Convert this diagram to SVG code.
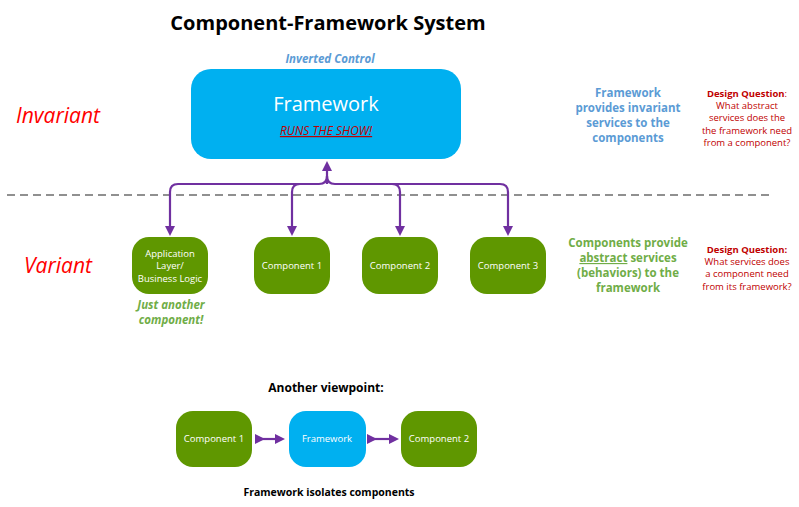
<svg xmlns="http://www.w3.org/2000/svg" width="799" height="507" viewBox="0 0 799 507">
<style>
text{font-family:"Open Sans","Liberation Sans",sans-serif}
.g{fill:#5f9700}
.b{fill:#00b0f0}
.wt{fill:#fff;font-size:9.5px;text-anchor:middle}
.c{stroke:#7030a0;stroke-width:2.2;fill:none}
.bl{fill:#5b9bd5;font-weight:bold;font-size:11.5px;text-anchor:middle}
.gr{fill:#70ad47;font-weight:bold;font-size:11.5px;text-anchor:middle}
.rd{fill:#c00000;font-size:9.5px;text-anchor:middle}
</style>
<defs>
<marker id="a" markerWidth="10" markerHeight="10" refX="5" refY="5" orient="auto" markerUnits="userSpaceOnUse"><path d="M0,0 L10,5 L0,10 Z" fill="#7030a0"/></marker>
</defs>
<rect width="799" height="507" fill="#fff"/>
<text x="328" y="30" text-anchor="middle" font-size="20" font-weight="bold">Component-Framework System</text>
<text x="58" y="123" text-anchor="middle" font-size="21" font-style="italic" fill="#ff0000">Invariant</text>
<text x="58" y="273" text-anchor="middle" font-size="21" font-style="italic" fill="#ff0000">Variant</text>
<line x1="7" y1="195" x2="772" y2="195" stroke="#222" stroke-width="1.2" stroke-dasharray="8,5"/>
<g id="connectors">
<path class="c" d="M327,176 Q327,184 319,184 L178,184 Q170,184 170,192 L170,231" marker-end="url(#a)"/>
<path class="c" d="M327,176 Q327,184 335,184 L500,184 Q508,184 508,192 L508,231" marker-end="url(#a)"/>
<path class="c" d="M300,184 Q292,184 292,192 L292,231" marker-end="url(#a)"/>
<path class="c" d="M392,184 Q400,184 400,192 L400,231" marker-end="url(#a)"/>
<path class="c" d="M327,184 L327,166" marker-end="url(#a)"/>
<path class="c" d="M260,439 L280,439" marker-start="url(#a)" marker-end="url(#a)"/>
<path class="c" d="M372,439 L394,439" marker-start="url(#a)" marker-end="url(#a)"/>
</g>
<g id="framework">
<rect class="b" x="191" y="69" width="270" height="90" rx="20"/>
<text x="326" y="111" text-anchor="middle" fill="#fff" font-size="20">Framework</text>
<text x="326" y="135" text-anchor="middle" fill="#c00000" font-size="12" font-style="italic" text-decoration="underline">RUNS THE SHOW!</text>
</g>
<text x="330" y="63" class="bl" font-style="italic">Inverted Control</text>
<g id="app"><rect class="g" x="132" y="237" width="76" height="57" rx="17"/>
<text class="wt" x="170" y="257">Application</text><text class="wt" x="170" y="269">Layer/</text><text class="wt" x="170" y="282">Business Logic</text></g>
<text x="171" y="309" class="gr" font-size="11" font-style="italic" fill="#70ad47">Just another</text>
<text x="171" y="324" class="gr" font-size="11" font-style="italic">component!</text>
<g id="c1"><rect class="g" x="254" y="237" width="76" height="57" rx="17"/><text class="wt" x="292" y="269">Component 1</text></g>
<g id="c2"><rect class="g" x="362" y="237" width="76" height="57" rx="17"/><text class="wt" x="400" y="269">Component 2</text></g>
<g id="c3"><rect class="g" x="470" y="237" width="76" height="57" rx="17"/><text class="wt" x="508" y="269">Component 3</text></g>
<text class="bl" x="628" y="97">Framework</text>
<text class="bl" x="628" y="112">provides invariant</text>
<text class="bl" x="628" y="127">services to the</text>
<text class="bl" x="628" y="142">components</text>
<text class="rd" x="747" y="97"><tspan font-weight="bold">Design Question</tspan>:</text>
<text class="rd" x="747" y="109">What abstract</text>
<text class="rd" x="747" y="121">services does the</text>
<text class="rd" x="747" y="134">the framework need</text>
<text class="rd" x="747" y="146">from a component?</text>
<text class="gr" x="628" y="247">Components provide</text>
<text class="gr" x="628" y="262"><tspan text-decoration="underline">abstract</tspan> services</text>
<text class="gr" x="628" y="277">(behaviors) to the</text>
<text class="gr" x="628" y="292">framework</text>
<text class="rd" x="747" y="253" font-weight="bold">Design Question:</text>
<text class="rd" x="747" y="265">What services does</text>
<text class="rd" x="747" y="277">a component need</text>
<text class="rd" x="747" y="290">from its framework?</text>
<text x="326" y="392" text-anchor="middle" font-size="12" font-weight="bold">Another viewpoint:</text>
<g id="bc1"><rect class="g" x="176" y="411" width="76" height="56" rx="17"/><text class="wt" x="214" y="442">Component 1</text></g>
<g id="bf"><rect class="b" x="289" y="411" width="77" height="56" rx="17"/><text class="wt" x="327" y="442">Framework</text></g>
<g id="bc2"><rect class="g" x="401" y="411" width="76" height="56" rx="17"/><text class="wt" x="439" y="442">Component 2</text></g>
<text x="329" y="496" text-anchor="middle" font-size="10.5" font-weight="bold">Framework isolates components</text>
</svg>
